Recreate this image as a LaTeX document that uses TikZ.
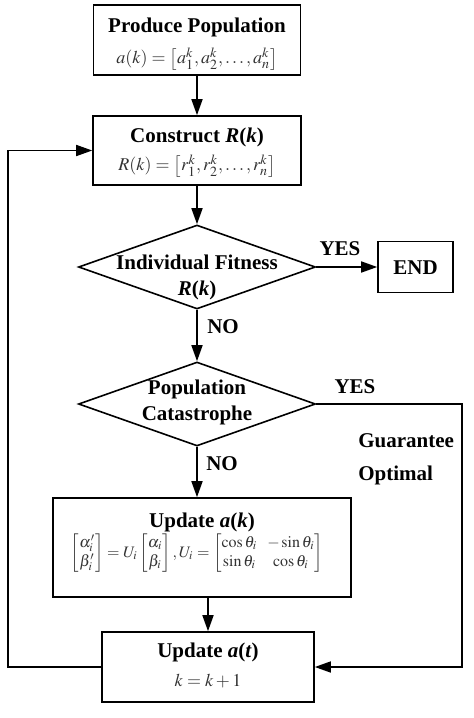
\documentclass[tikz,border=0pt]{standalone}
\usepackage{amsmath}
\usepackage{mathptmx}
\usepackage{fontspec}
\setmainfont{Liberation Serif}
\usetikzlibrary{shapes.geometric,arrows.meta}

\begin{document}
\begin{tikzpicture}[x=0.5pt,y=0.5pt,yscale=-1,xscale=1,
  box/.style={draw,line width=0.8pt,inner sep=0pt},
  decision/.style={draw,diamond,line width=0.8pt,inner sep=0pt,minimum width=118.5pt,minimum height=42pt},
  flow/.style={line width=0.8pt,-{Triangle[length=8pt,width=5.5pt]}},
  ttl/.style={font=\bfseries\fontsize{10.5}{12}\selectfont,inner sep=0pt,anchor=base},
  eqn/.style={text=black!80,inner sep=0pt,font=\small},
  lbl/.style={font=\bfseries\fontsize{10.5}{12}\selectfont,inner sep=0pt,anchor=base}]
\useasboundingbox (0,0) rectangle (474,718);

%Shape: Rectangle [Produce Population]
\node[box,minimum width=103.5pt,minimum height=35pt] (pop) at (197,40) {};
% Text Node
\node[ttl] (popT) at (197,32) {Produce Population};
\node[eqn] (popE) at (197,59) {$a(k)=\left[a_1^k,a_2^k,\ldots,a_n^k\right]$};

%Shape: Rectangle [Construct R(k)]
\node[box,minimum width=104pt,minimum height=34.5pt] (con) at (197,150.5) {};
% Text Node
\node[ttl] (conT) at (197,142) {Construct \textit{R}(\textit{k})};
\node[eqn] (conE) at (197,166) {$R(k)=\left[r_1^k,r_2^k,\ldots,r_n^k\right]$};

%Shape: Diamond [Individual Fitness]
\node[decision] (fit) at (197,267) {};
% Text Node
\node[ttl] (fitT) at (197,269) {Individual Fitness};
\node[ttl] (fitR) at (197,295) {\textit{R}(\textit{k})};

%Shape: Rectangle [END]
\node[box,minimum width=37.5pt,minimum height=25.5pt] (end) at (415.5,267) {};
\node[ttl] (endT) at (415.5,274) {END};

%Shape: Diamond [Population Catastrophe]
\node[decision] (cat) at (197,404) {};
% Text Node
\node[ttl] (catT) at (197,394) {Population};
\node[ttl] (catC) at (197,420) {Catastrophe};

%Shape: Rectangle [Update a(k)]
\node[box,minimum width=149pt,minimum height=49.5pt] (upd) at (202,547.5) {};
% Text Node
\node[ttl] (updT) at (202,527) {Update \textit{a}(\textit{k})};
\node[eqn,font=\footnotesize] (updE) at (197,553) {\setlength{\arraycolsep}{2.5pt}$\begin{bmatrix}\alpha_i'\\ \beta_i'\end{bmatrix}=U_i\begin{bmatrix}\alpha_i\\ \beta_i\end{bmatrix},U_i=\begin{bmatrix}\cos\theta_i & -\sin\theta_i\\ \sin\theta_i & \cos\theta_i\end{bmatrix}$};

%Shape: Rectangle [Update a(t)]
\node[box,minimum width=106pt,minimum height=35pt] (updt) at (208,667) {};
% Text Node
\node[ttl] (updtT) at (208,657) {Update \textit{a}(\textit{t})};
\node[eqn,anchor=base] (updtE) at (208,686) {$k=k+1$};

%Straight Lines
\coordinate (rt) at (462,404);
\coordinate (rb) at (462,667);
\coordinate (lb) at (8,667);
\coordinate (lt) at (8,150.5);
\draw[flow] (pop) -- (con);
\draw[flow] (con) -- (fit);
\draw[flow] (fit) -- (end);
\draw[flow] (fit) -- (cat);
\draw[flow] (cat.south) -- (cat.south |- upd.north);
\draw[flow] (updt.north |- upd.south) -- (updt.north);
\draw[flow] (cat.east) -- (rt) -- (rb) -- (updt.east);
\draw[flow] (updt.west) -- (lb) -- (lt) -- (con.west);

% Text Node
\node[lbl] (yes1) at (340,255) {YES};
\node[lbl] (no1) at (223,333) {NO};
\node[lbl] (yes2) at (355,393) {YES};
\node[lbl] (no2) at (222,470) {NO};
\node[lbl,anchor=base west] (gua) at (358,447) {Guarantee};
\node[lbl,anchor=base west] (opt) at (358,480) {Optimal};

\end{tikzpicture}
\end{document}
